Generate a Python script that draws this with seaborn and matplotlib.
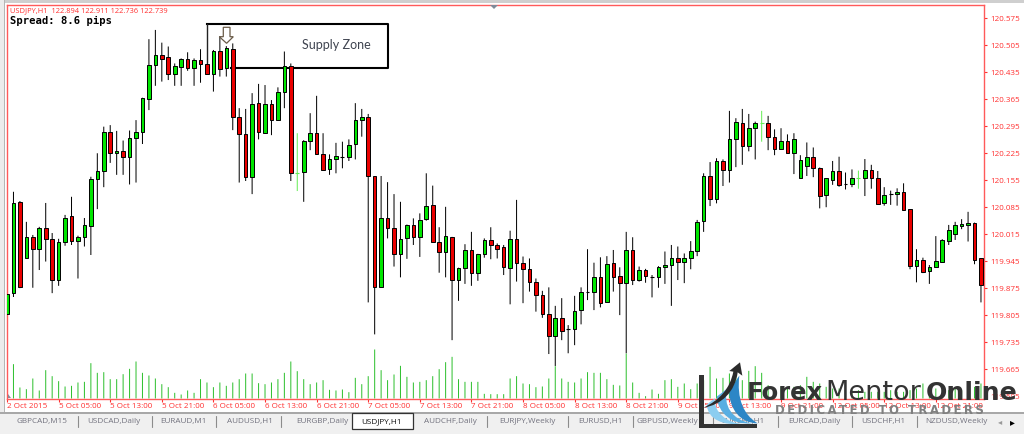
import matplotlib
matplotlib.use("Agg")
import matplotlib.pyplot as plt
import pandas as pd
import seaborn as sns
from matplotlib.patches import PathPatch, Polygon, Rectangle
from matplotlib.path import Path

# candle values, bar by bar (hourly)
highs = [120.013, 120.125, 120.101, 120.047, 120.013, 120.034, 120.096, 120.018, 120.003, 120.065,
         120.112, 120.011, 120.057, 120.164, 120.225, 120.294, 120.298, 120.283, 120.258, 120.284,
         120.311, 120.369, 120.521, 120.545, 120.512, 120.502, 120.458, 120.471, 120.487, 120.471,
         120.495, 120.457, 120.493, 120.529, 120.503, 120.510, 120.342, 120.340, 120.381, 120.405,
         120.402, 120.363, 120.396, 120.489, 120.458, 120.277, 120.259, 120.329, 120.374, 120.277,
         120.222, 120.252, 120.255, 120.261, 120.355, 120.340, 120.327, 120.165, 120.166, 120.150,
         120.119, 120.099, 120.040, 120.056, 120.069, 120.173, 120.141, 120.033, 120.086, 120.008,
         119.928, 119.989, 120.021, 119.964, 120.004, 120.033, 119.991, 119.987, 120.024, 120.104,
         119.957, 119.952, 119.900, 119.868, 119.877, 119.829, 119.849, 119.779, 119.855, 119.877,
         119.976, 119.941, 119.955, 119.958, 119.974, 119.929, 120.021, 120.007, 119.931, 119.925,
         119.909, 119.932, 119.970, 119.987, 119.983, 119.965, 119.997, 120.052, 120.173, 120.202,
         120.212, 120.209, 120.335, 120.316, 120.340, 120.327, 120.307, 120.335, 120.322, 120.287,
         120.290, 120.274, 120.277, 120.220, 120.253, 120.240, 120.188, 120.160, 120.205, 120.216,
         120.175, 120.183, 120.180, 120.210, 120.195, 120.179, 120.137, 120.128, 120.134, 120.147,
         120.080, 119.976, 119.954, 119.935, 120.010, 120.002, 120.039, 120.047, 120.054, 120.073,
         120.045, 119.952]
lows = [119.774, 119.852, 119.875, 119.953, 119.876, 119.922, 119.944, 119.862, 119.881, 119.985,
        119.987, 119.900, 119.983, 119.961, 120.080, 120.137, 120.200, 120.169, 120.169, 120.144,
        120.149, 120.249, 120.337, 120.400, 120.411, 120.415, 120.400, 120.400, 120.439, 120.400,
        120.408, 120.431, 120.385, 120.424, 120.424, 120.285, 120.149, 120.153, 120.119, 120.261,
        120.277, 120.272, 120.310, 120.342, 120.153, 120.127, 120.099, 120.233, 120.222, 120.182,
        120.169, 120.173, 120.186, 120.205, 120.209, 120.268, 119.838, 119.755, 119.877, 120.004,
        119.931, 119.903, 119.951, 119.987, 119.956, 120.050, 119.994, 119.915, 119.903, 119.740,
        119.842, 119.886, 119.881, 119.894, 119.954, 119.950, 119.952, 119.909, 119.833, 119.892,
        119.836, 119.866, 119.814, 119.798, 119.704, 119.673, 119.740, 119.706, 119.727, 119.781,
        119.844, 119.818, 119.825, 119.840, 119.866, 119.805, 119.706, 119.883, 119.892, 119.889,
        119.851, 119.876, 119.886, 119.829, 119.896, 119.888, 119.924, 119.958, 120.021, 120.088,
        120.095, 120.140, 120.149, 120.189, 120.195, 120.230, 120.209, 120.255, 120.233, 120.220,
        120.235, 120.225, 120.171, 120.162, 120.166, 120.163, 120.082, 120.085, 120.143, 120.138,
        120.131, 120.137, 120.133, 120.114, 120.133, 120.094, 120.089, 120.091, 120.089, 120.076,
        119.924, 119.890, 119.914, 119.886, 119.929, 119.943, 119.987, 120.000, 120.028, 119.996,
        119.937, 119.838]
opens = [119.808, 119.862, 120.099, 119.953, 120.008, 119.977, 120.032, 120.002, 119.895, 119.996,
         120.061, 119.998, 120.008, 120.036, 120.157, 120.178, 120.281, 120.225, 120.230, 120.216,
         120.264, 120.279, 120.365, 120.455, 120.480, 120.474, 120.431, 120.448, 120.469, 120.445,
         120.467, 120.457, 120.431, 120.490, 120.445, 120.496, 120.318, 120.274, 120.164, 120.356,
         120.277, 120.352, 120.310, 120.385, 120.452, 120.174, 120.176, 120.258, 120.277, 120.222,
         120.184, 120.209, 120.216, 120.216, 120.250, 120.311, 120.318, 120.165, 119.877, 120.056,
         120.032, 119.964, 120.004, 120.040, 120.008, 120.054, 120.090, 119.994, 119.968, 120.008,
         119.897, 119.928, 119.973, 119.914, 119.964, 120.000, 119.987, 119.981, 119.927, 120.003,
         119.939, 119.925, 119.891, 119.856, 119.807, 119.751, 119.797, 119.768, 119.770, 119.818,
         119.866, 119.866, 119.904, 119.840, 119.939, 119.906, 119.889, 119.973, 119.895, 119.921,
         119.903, 119.903, 119.931, 119.935, 119.954, 119.944, 119.954, 119.971, 120.048, 120.165,
         120.107, 120.205, 120.182, 120.261, 120.304, 120.243, 120.290, 120.303, 120.304, 120.268,
         120.235, 120.258, 120.225, 120.162, 120.193, 120.215, 120.188, 120.117, 120.156, 120.178,
         120.146, 120.146, 120.160, 120.161, 120.181, 120.162, 120.095, 120.119, 120.119, 120.124,
         120.080, 119.932, 119.947, 119.919, 119.929, 119.943, 119.998, 120.016, 120.037, 120.040,
         120.045, 119.952]
closes = [119.860, 120.097, 119.878, 120.008, 119.977, 120.032, 120.002, 119.896, 119.994, 120.057,
          119.998, 120.007, 120.038, 120.157, 120.178, 120.281, 120.226, 120.231, 120.215, 120.264,
          120.279, 120.368, 120.455, 120.480, 120.470, 120.431, 120.451, 120.470, 120.445, 120.467,
          120.457, 120.431, 120.490, 120.444, 120.499, 120.318, 120.274, 120.164, 120.352, 120.279,
          120.352, 120.310, 120.385, 120.452, 120.174, 120.174, 120.258, 120.277, 120.222, 120.182,
          120.209, 120.218, 120.216, 120.247, 120.310, 120.320, 120.165, 119.877, 120.056, 120.032,
          119.964, 120.003, 120.040, 120.008, 120.053, 120.088, 119.994, 119.968, 120.010, 119.895,
          119.928, 119.973, 119.914, 119.964, 120.000, 119.986, 119.976, 119.929, 120.003, 119.939,
          119.925, 119.892, 119.856, 119.808, 119.751, 119.797, 119.765, 119.768, 119.816, 119.864,
          119.866, 119.904, 119.837, 119.938, 119.904, 119.889, 119.973, 119.895, 119.923, 119.907,
          119.903, 119.931, 119.935, 119.954, 119.944, 119.954, 119.971, 120.046, 120.165, 120.107,
          120.205, 120.181, 120.263, 120.305, 120.243, 120.290, 120.304, 120.303, 120.266, 120.235,
          120.258, 120.225, 120.261, 120.207, 120.216, 120.186, 120.115, 120.160, 120.178, 120.143,
          120.146, 120.160, 120.160, 120.181, 120.161, 120.094, 120.117, 120.119, 120.124, 120.079,
          119.932, 119.947, 119.918, 119.930, 119.945, 119.999, 120.025, 120.040, 120.041, 120.043,
          119.949, 119.882]
# tick volume of each bar
volumes = [100, 103, 33, 28, 60, 24, 85, 67, 52, 36, 38, 48, 50, 106, 77, 79, 58, 58, 73, 89,
           111, 77, 69, 60, 43, 34, 17, 12, 24, 17, 58, 48, 34, 48, 38, 48, 58, 75, 75, 46,
           43, 48, 58, 77, 111, 82, 58, 43, 48, 55, 26, 24, 27, 19, 62, 43, 67, 147, 85, 55,
           72, 98, 65, 48, 50, 55, 67, 88, 109, 125, 58, 50, 50, 50, 14, 13, 13, 13, 60, 67,
           45, 43, 34, 36, 60, 97, 60, 50, 48, 60, 79, 77, 77, 58, 41, 39, 135, 48, 17, 7,
           27, 14, 55, 58, 35, 45, 28, 45, 55, 95, 60, 62, 75, 85, 55, 83, 97, 77, 40, 30,
           35, 30, 35, 40, 65, 50, 45, 35, 30, 30, 25, 25, 25, 20, 20, 20, 20, 25, 20, 20,
           25, 30, 45, 30, 30, 25, 25, 30, 25, 25, 35, 45]
lime_doji = [45, 117, 132]

price_ticks = [120.575, 120.505, 120.435, 120.365, 120.295, 120.225, 120.155, 120.085, 120.015,
               119.945, 119.875, 119.805, 119.735, 119.665, 119.595]
time_labels = ["2 Oct 2015", "5 Oct 05:00", "5 Oct 13:00", "5 Oct 21:00", "6 Oct 05:00", "6 Oct 13:00",
               "6 Oct 21:00", "7 Oct 05:00", "7 Oct 13:00", "7 Oct 21:00", "8 Oct 05:00", "8 Oct 13:00",
               "8 Oct 21:00", "9 Oct 05:00", "9 Oct 13:00", "9 Oct 21:00", "12 Oct 05:00", "12 Oct 13:00",
               "12 Oct 21:00"]
tab_names = ["GBPCAD,M15", "USDCAD,Daily", "EURAUD,M1", "AUDUSD,H1", "EURGBP,Daily", "USDJPY,H1",
             "AUDCHF,Daily", "EURJPY,Weekly", "EURUSD,H1", "GBPUSD,Weekly", "EURCHF,H1", "EURCAD,Daily",
             "USDCHF,H1", "NZDUSD,Weekly"]

W, H = 1024, 434
RED = "#ff3030"

sns.set_theme(style="white")
plt.rcParams["font.family"] = ["Open Sans", "DejaVu Sans"]

df = pd.DataFrame({"bar": range(len(opens)), "open": opens, "high": highs, "low": lows,
                   "close": closes, "volume": volumes})

fig = plt.figure(figsize=(W / 100, H / 100), dpi=100, facecolor="white")
ax = fig.add_axes([6.5 / W, 1 - 398.5 / H, 977.5 / W, 394 / H])
vol_ax = ax.twinx()

# volume first, it sits behind the candles
sns.barplot(data=df, x="bar", y="volume", native_scale=True, width=0.155, color="#2fc02f",
            saturation=1, linewidth=0, ax=vol_ax)
for patch in vol_ax.patches:
    patch.set_snap(False)
vol_ax.set_ylim(0, 1182)
vol_ax.axis("off")
ax.set_zorder(vol_ax.get_zorder() + 1)
ax.patch.set_visible(False)

# supply zone box, under the candles
box_kw = dict(color="black", lw=1.5, solid_capstyle="projecting", zorder=1)
ax.plot([31.05, 59.1, 59.1, 34.7], [120.5604, 120.5604, 120.4455, 120.4455], **box_kw)
ax.plot([31.05, 31.05], [120.5604, 120.459], color="#222222", lw=1, zorder=1)

# candles
up = df[df["close"] > df["open"]]
down = df[df["close"] < df["open"]]
flat = df[df["close"] == df["open"]]
wick_colors = ["#66ee55" if i in lime_doji else "black" for i in df["bar"]]
wicks = ax.vlines(df["bar"], df["low"], df["high"], colors=wick_colors, lw=0.72, zorder=2)
wicks.set_snap(False)
ax.bar(up["bar"], up["close"] - up["open"], bottom=up["open"], width=0.56, color="#00e600",
       edgecolor="black", linewidth=0.7, zorder=3)
ax.bar(down["bar"], down["open"] - down["close"], bottom=down["close"], width=0.56, color="#ea0000",
       edgecolor="black", linewidth=0.7, zorder=3)
flat_colors = ["#66ee55" if i in lime_doji else "black" for i in flat["bar"]]
ax.hlines(flat["close"], flat["bar"] - 0.3, flat["bar"] + 0.3, colors=flat_colors, lw=0.8, zorder=3)

ax.set_xlim(-0.08, 151.47)
ax.set_ylim(119.5886, 120.6110)
ax.yaxis.tick_right()
ax.set_yticks(price_ticks)
ax.set_yticklabels([f"{p:.3f}" for p in price_ticks])
ax.set_xticks(range(0, 8 * len(time_labels), 8))
ax.set_xticklabels(time_labels, ha="left")
ax.tick_params(axis="both", colors=RED, labelsize=5.8, length=2.2, width=0.8,
               left=False, right=True, bottom=True, labelbottom=True, labelright=True, labelleft=False)
ax.tick_params(axis="y", pad=2)
ax.tick_params(axis="x", pad=1.2)
ax.set_xlabel("")
for spine in ax.spines.values():
    spine.set_color("#ff5a5a")
    spine.set_linewidth(1)
    spine.set_visible(True)

# everything around the chart is drawn in pixels on a full-size overlay
top = fig.add_axes([0, 0, 1, 1], zorder=10)
top.set_xlim(0, W)
top.set_ylim(H, 0)
top.axis("off")

# window chrome
top.add_patch(Rectangle((0, 0), W, 3, color="#cfcfcf", lw=0))
top.add_patch(Rectangle((0, 0), 4, H, color="#ececec", lw=0))
top.add_patch(Rectangle((4, 0), 1, 412, color="#b5b5b5", lw=0))
top.add_patch(Rectangle((0, 413), W, 21, color="#f0f0f0", lw=0))
top.add_patch(Rectangle((0, 412), W, 1.5, color="#a8a8a8", lw=0))
top.add_patch(Polygon([(490, 5), (498, 5), (494, 9)], color="#7f8a99", lw=0))
top.add_patch(Polygon([(7.5, 394), (7.5, 398), (11, 398)], color="#8a8a9a", lw=0))

# symbol tabs
tab_x = [41.7, 114, 183, 250, 322, 381.7, 450, 527, 600, 667, 743, 814, 883, 956]
sep_x = [78, 152, 216, 281, 487, 568, 633, 713, 778, 852, 917]
top.add_patch(Rectangle((352, 413), 60.7, 15.5, facecolor="white", edgecolor="#333333", lw=0.9, zorder=1))
for name, x in zip(tab_names, tab_x):
    active = name == "USDJPY,H1"
    top.text(x, 421.7, name, ha="center", va="center", fontsize=5.9,
             color="#111111" if active else "#73737f", zorder=2)
for x in sep_x:
    top.plot([x, x], [416, 427], color="#8c8c8c", lw=0.8)
top.text(1000, 422, "◂", ha="center", va="center", fontsize=6, color="#999999", family="DejaVu Sans")
top.text(1012.5, 422, "▸", ha="center", va="center", fontsize=7, color="black", family="DejaVu Sans")

# chart header and notes
top.text(10, 11, "USDJPY,H1  122.894 122.911 122.736 122.739", color=RED, fontsize=5.4, va="center")
top.text(10, 20.5, "Spread: 8.6 pips", color="black", fontsize=7.6, va="center",
         family="DejaVu Sans Mono", weight="bold")
top.text(302, 45, "Supply Zone", color="#3f4450", fontsize=9, va="center", family="Lato")
top.add_patch(Polygon([(223.3, 27.3), (230, 27.3), (230, 36.7), (233.3, 36.7), (226.6, 43.3),
                       (219.3, 36.7), (223.3, 36.7)], closed=True, facecolor="white",
                      edgecolor="#6a5b48", lw=0.9))


# logo, traced in crop coordinates of the bottom right corner
def logo_xy(points):
    return [(690 + px / 3, 355 + py / 3) for px, py in points]


def swoosh(points, color):
    codes = [Path.MOVETO] + [Path.CURVE4] * (len(points) - 1)
    top.add_patch(PathPatch(Path(logo_xy(points), codes), facecolor=color, lw=0, zorder=5))


swoosh([(75, 130), (70, 170), (110, 205), (160, 207), (100, 212), (55, 195), (50, 150), (60, 140), (68, 135), (75, 130)],
       "#8ccdf0")
swoosh([(112, 100), (98, 150), (125, 195), (185, 205), (125, 210), (85, 175), (80, 125), (90, 118), (102, 108), (112, 100)],
       "#58aee2")
swoosh([(148, 62), (140, 130), (160, 180), (203, 205), (150, 205), (118, 160), (118, 110), (128, 92), (138, 76), (148, 62)],
       "#2c86c6")
top.add_patch(Rectangle((699, 375), 5.3, 53, color="#333333", lw=0, zorder=6))
top.add_patch(Rectangle((699, 424), 57.7, 4, color="#333333", lw=0, zorder=6))
arrow_codes = [Path.MOVETO, Path.CURVE4, Path.CURVE4, Path.CURVE4, Path.LINETO, Path.LINETO, Path.LINETO, Path.LINETO,
               Path.CURVE4, Path.CURVE4, Path.CURVE4]
arrow_pts = [(40, 158), (90, 135), (120, 100), (130, 50), (118, 48), (150, 22), (157, 62), (143, 52),
             (135, 110), (95, 150), (40, 158)]
top.add_patch(PathPatch(Path(logo_xy(arrow_pts), arrow_codes), facecolor="#2b2b2b", lw=0, zorder=7))

word_kw = dict(color="#333333", va="baseline", zorder=8, family="DejaVu Sans")
top.text(747, 400, "Forex", weight="bold", fontsize=17.5, **word_kw)
top.text(825, 400, "Mentor", weight="normal", fontsize=19.5, **word_kw)
top.text(926, 400, "Online", weight="bold", fontsize=18.2, **word_kw)
top.text(775, 411, "\u2009".join("DEDICATED TO TRADERS"), color="#808080", fontsize=8.5, va="center",
         weight="bold", family="DejaVu Sans", zorder=8)

fig.savefig("out.png", dpi=100, facecolor=fig.get_facecolor())
